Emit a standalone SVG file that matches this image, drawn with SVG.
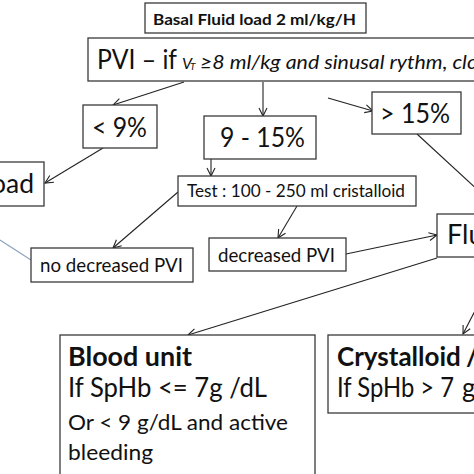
<svg xmlns="http://www.w3.org/2000/svg" width="474" height="474" viewBox="0 0 474 474">
<defs>
<marker id="ah" markerUnits="userSpaceOnUse" markerWidth="12" markerHeight="12" refX="9" refY="5" orient="auto">
<path d="M1,1 L9,5 L1,9" fill="none" stroke="#222" stroke-width="1.1"/>
</marker>
<style>
.box{fill:#fff;stroke:#3a3a3a;stroke-width:1.3}
.t{font-family:Lato,"Open Sans","DejaVu Sans",sans-serif;fill:#111}
.b{font-weight:bold}
.c{fill:none;stroke:#222;stroke-width:1.1}
</style>
</defs>
<rect width="474" height="474" fill="#fff"/>
<g id="connectors">
<line class="c" x1="184" y1="82" x2="113" y2="105" marker-end="url(#ah)"/>
<line class="c" x1="263" y1="82" x2="263" y2="116" marker-end="url(#ah)"/>
<line class="c" x1="328" y1="98" x2="373" y2="111" marker-end="url(#ah)"/>
<line class="c" x1="103" y1="148" x2="45" y2="183" marker-end="url(#ah)"/>
<line class="c" x1="211" y1="159" x2="211" y2="176" marker-end="url(#ah)"/>
<line class="c" x1="178" y1="192" x2="113" y2="248" marker-end="url(#ah)"/>
<line class="c" x1="297" y1="206" x2="278" y2="238" marker-end="url(#ah)"/>
<line class="c" x1="346" y1="254" x2="437" y2="235" marker-end="url(#ah)"/>
<line class="c" x1="417" y1="134" x2="482" y2="194"/>
<line class="c" x1="437" y1="258" x2="188" y2="335" marker-end="url(#ah)"/>
<line class="c" x1="478" y1="305" x2="463" y2="334" marker-end="url(#ah)"/>
<line x1="0" y1="240" x2="31" y2="260" stroke="#8fa3c0" stroke-width="1.2"/>
</g>
<g id="basal">
<rect class="box" x="145" y="3" width="221" height="30"/>
<text class="t b" x="153" y="25" font-size="16" textLength="203" lengthAdjust="spacingAndGlyphs">Basal Fluid load 2 ml/kg/H</text>
</g>
<g id="pvi">
<rect class="box" x="88" y="38" width="400" height="43"/>
<text class="t" x="97" y="69" font-size="27" textLength="80" lengthAdjust="spacingAndGlyphs">PVI – if</text>
<text class="t" x="182" y="69" font-size="16" font-style="italic">V<tspan x="190" font-size="10" dy="1">T</tspan><tspan x="200" dy="-1" font-size="19" textLength="278" lengthAdjust="spacingAndGlyphs">≥8 ml/kg and sinusal rythm, clo</tspan></text>
</g>
<g id="lt9">
<rect class="box" x="83" y="105" width="74" height="43"/>
<text class="t" x="92" y="137" font-size="27" textLength="55" lengthAdjust="spacingAndGlyphs">&lt; 9%</text>
</g>
<g id="mid">
<rect class="box" x="204" y="116" width="112" height="43"/>
<text class="t" x="220" y="147" font-size="27" textLength="85" lengthAdjust="spacingAndGlyphs">9 - 15%</text>
</g>
<g id="gt15">
<rect class="box" x="372" y="92" width="89" height="42"/>
<text class="t" x="380" y="123" font-size="27" textLength="70" lengthAdjust="spacingAndGlyphs">&gt; 15%</text>
</g>
<g id="load">
<rect class="box" x="-10" y="162" width="54" height="44"/>
<text class="t" x="-9" y="193" font-size="27" textLength="43" lengthAdjust="spacingAndGlyphs">oad</text>
</g>
<g id="test">
<rect class="box" x="178" y="176" width="238" height="30"/>
<text class="t" x="187" y="197" font-size="17" textLength="218" lengthAdjust="spacingAndGlyphs">Test : 100 - 250 ml  cristalloid</text>
</g>
<g id="nodec">
<rect class="box" x="31" y="248" width="162" height="34"/>
<text class="t" x="40" y="272" font-size="19" textLength="143" lengthAdjust="spacingAndGlyphs">no decreased PVI</text>
</g>
<g id="dec">
<rect class="box" x="209" y="238" width="137" height="33"/>
<text class="t" x="218" y="262" font-size="19" textLength="117" lengthAdjust="spacingAndGlyphs">decreased PVI</text>
</g>
<g id="fluid">
<rect class="box" x="437" y="214" width="60" height="43"/>
<text class="t" x="447" y="244" font-size="27">Flu</text>
</g>
<g id="blood">
<rect class="box" x="60" y="335" width="255" height="145"/>
<text class="t b" x="68" y="366" font-size="26" textLength="124" lengthAdjust="spacingAndGlyphs">Blood unit</text>
<text class="t" x="68" y="397" font-size="26" textLength="199" lengthAdjust="spacingAndGlyphs">If SpHb &lt;= 7g /dL</text>
<text class="t" x="68" y="430" font-size="22" textLength="220" lengthAdjust="spacingAndGlyphs">Or &lt; 9 g/dL and active</text>
<text class="t" x="68" y="460" font-size="22" textLength="85" lengthAdjust="spacingAndGlyphs">bleeding</text>
</g>
<g id="crystal">
<rect class="box" x="328" y="335" width="160" height="78"/>
<text class="t b" x="337" y="366" font-size="26">Crystalloid<tspan x="466">/</tspan></text>
<text class="t" x="337" y="397" font-size="26"><tspan textLength="117" lengthAdjust="spacingAndGlyphs">If SpHb &gt; 7</tspan><tspan x="462">g</tspan></text>
</g>
</svg>
